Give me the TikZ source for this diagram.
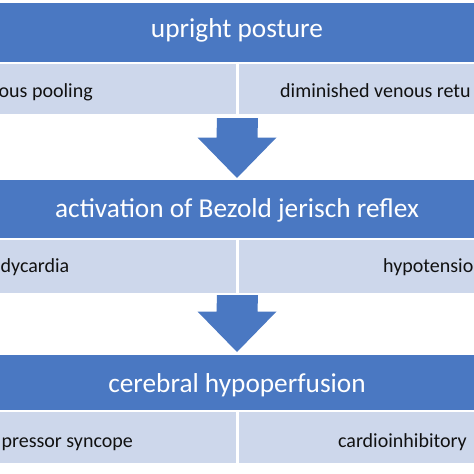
\documentclass[tikz,border=0pt]{standalone}
\usepackage{fontspec}
\setmainfont{Carlito}
\usetikzlibrary{
  positioning,
  calc
}
\definecolor{barblue}{HTML}{4A78C2}
\definecolor{celllight}{HTML}{CDD7EB}
\definecolor{celltext}{HTML}{111111}

% block arrow from the top of its shaft (#1) to its tip (#2)
\newcommand{\blockarrow}[2]{%
  \fill[barblue] ($(#1)+(-20.5,0)$) -- ($(#1)+(20.5,0)$) -- ($(#2)+(20.5,-40.5)$)
    -- ($(#2)+(39.5,-40.5)$) -- (#2) -- ($(#2)+(-39.5,-40.5)$)
    -- ($(#2)+(-20.5,-40.5)$) -- cycle;}

\begin{document}
\begin{tikzpicture}[
  x=1pt, y=-1pt,
  bar/.style={fill=barblue, text=white, inner sep=0pt, outer sep=0pt,
    minimum width=474pt, font=\fontsize{27.3}{31}\selectfont},
  cell/.style={fill=celllight, inner sep=0pt, outer sep=0pt, anchor=north west},
  celltxt/.style={text=celltext, inner sep=0pt, font=\fontsize{20}{24}\selectfont}
]
  \clip (0,0) rectangle (474,474);
  \fill[white] (0,0) rectangle (474,474);

  % upright posture
  \node[bar, anchor=north, text height=34pt, text depth=25pt] (upright) at (237,3) {upright posture};
  \node[cell, minimum width=236pt, minimum height=50pt] (pool) at (0,64) {};
  \node[cell, minimum width=235pt, minimum height=50pt] (retu) at (239,64) {};
  \node[celltxt, anchor=base east] (pooltxt) at (93,97) {ous pooling};
  \node[celltxt, anchor=base west] (retutxt) at (280,97) {diminished venous retu};

  % Bezold jerisch reflex
  \node[bar, anchor=north, text height=37pt, text depth=21pt] (bezold) at (237,180) {activation of Bezold jerisch reflex};
  \node[cell, minimum width=236pt, minimum height=53pt] (brady) at (0,240) {};
  \node[cell, minimum width=235pt, minimum height=53pt] (hypot) at (239,240) {};
  \node[celltxt, anchor=base west] (bradytxt) at (0.5,272) {dycardia};
  \node[celltxt, anchor=base west] (hypottxt) at (383,272) {hypotensio};

  % cerebral hypoperfusion
  \node[bar, anchor=north, text height=37pt, text depth=18pt] (hypoperf) at (237,355) {cerebral hypoperfusion};
  \node[cell, minimum width=236pt, minimum height=51pt] (vaso) at (0,412) {};
  \node[cell, minimum width=235pt, minimum height=51pt] (cardio) at (239,412) {};
  \node[celltxt, anchor=base east] (vasotxt) at (133,447) {pressor syncope};
  \node[celltxt, anchor=base east] (cardiotxt) at (467,447) {cardioinhibitory};

  \coordinate (a1top) at ($(pool.south east)!0.5!(retu.south west)+(0,4)$);
  \coordinate (a1tip) at ($(bezold.north)+(0,-2)$);
  \coordinate (a2top) at ($(brady.south east)!0.5!(hypot.south west)+(0,2)$);
  \coordinate (a2tip) at ($(hypoperf.north)+(0,-3)$);
  \blockarrow{a1top}{a1tip}
  \blockarrow{a2top}{a2tip}
\end{tikzpicture}
\end{document}
